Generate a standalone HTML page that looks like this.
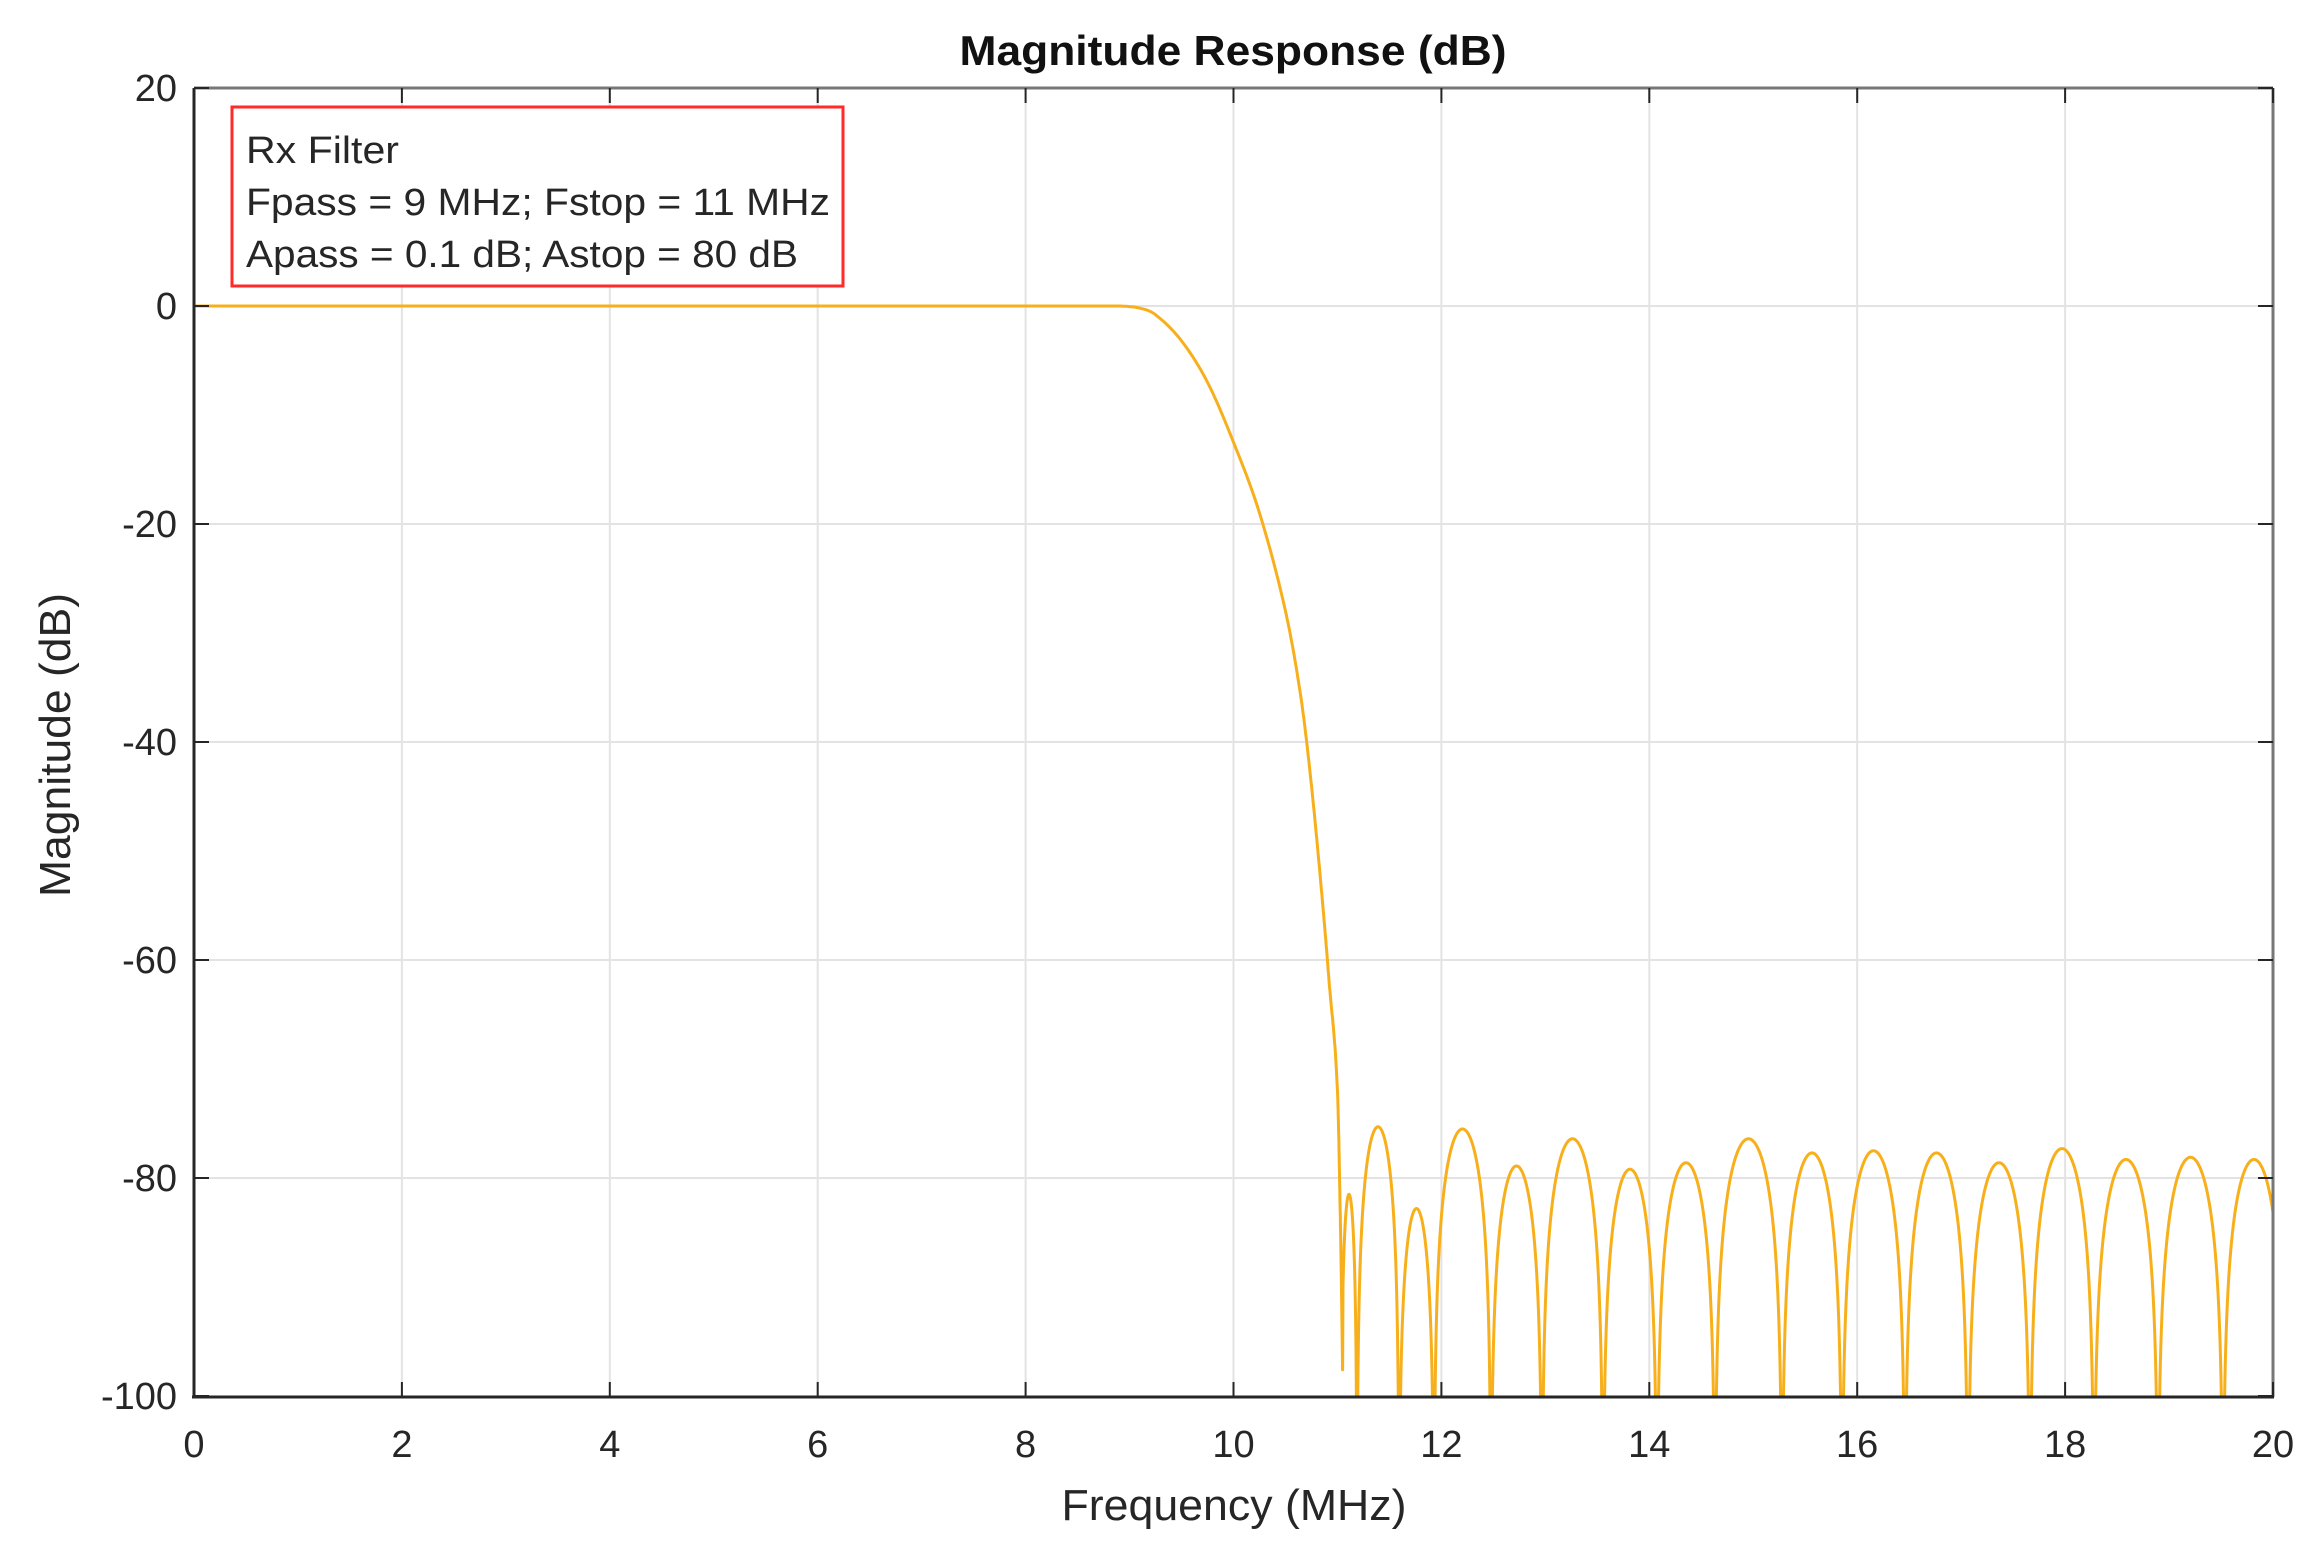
<!DOCTYPE html>
<html><head><meta charset="utf-8"><style>
html,body{margin:0;padding:0;background:#fff;}
svg{display:block;}
text{font-family:"Liberation Sans",Arial,sans-serif;fill:#262626;}
</style></head><body>
<svg id="s" width="2324" height="1546" viewBox="0 0 2324 1546" xmlns="http://www.w3.org/2000/svg">
<defs><clipPath id="c"><rect x="194" y="88" width="2079" height="1309"/></clipPath></defs>
<rect width="2324" height="1546" fill="#fff"/>
<g id="grid" stroke="#e3e3e3" stroke-width="2"></g>
<path id="curve" clip-path="url(#c)" fill="none" stroke="#f7b01c" stroke-width="3" stroke-linejoin="round"/>
<g id="axes" stroke="#262626" stroke-width="3" fill="none">
<line x1="194" y1="88" x2="194" y2="1397"/>
<line x1="192" y1="1397" x2="2274" y2="1397"/>
<line x1="194" y1="88" x2="2273" y2="88" stroke="#777"/>
<line x1="2273" y1="88" x2="2273" y2="1397" stroke="#777"/>
</g>
<g id="ticks" stroke="#262626" stroke-width="2"></g>
<g id="labels" font-size="38"></g>
<text x="1233" y="65" font-size="42" font-weight="bold" text-anchor="middle" textLength="547" lengthAdjust="spacingAndGlyphs" style="fill:#111">Magnitude Response (dB)</text>
<text x="1234" y="1520" font-size="44" text-anchor="middle" textLength="345" lengthAdjust="spacingAndGlyphs">Frequency (MHz)</text>
<text transform="translate(70,745) rotate(-90)" font-size="44" text-anchor="middle" textLength="304" lengthAdjust="spacingAndGlyphs">Magnitude (dB)</text>
<rect x="232" y="107" width="611" height="179" fill="#fff" stroke="#ff2a2a" stroke-width="3"/>
<text x="246" y="163" font-size="38" textLength="153" lengthAdjust="spacingAndGlyphs">Rx Filter</text>
<text x="246" y="215" font-size="38" textLength="584" lengthAdjust="spacingAndGlyphs">Fpass = 9 MHz; Fstop = 11 MHz</text>
<text x="246" y="267" font-size="38" textLength="552" lengthAdjust="spacingAndGlyphs">Apass = 0.1 dB; Astop = 80 dB</text>
</svg>
<script>
var NS="http://www.w3.org/2000/svg";
function X(f){return 194+f*103.95;}
function Y(d){return 306-d*10.9;}
function el(p,t,a,txt){var e=document.createElementNS(NS,t);for(var k in a)e.setAttribute(k,a[k]);if(txt!=null)e.textContent=txt;document.getElementById(p).appendChild(e);return e;}
for(var f=2;f<20;f+=2){el("grid","line",{x1:X(f),y1:88,x2:X(f),y2:1397});}
for(var d=0;d>-100;d-=20){el("grid","line",{x1:194,y1:Y(d),x2:2273,y2:Y(d)});}
for(var f=0;f<=20;f+=2){var x=X(f);
 el("ticks","line",{x1:x,y1:1397,x2:x,y2:1382});el("ticks","line",{x1:x,y1:88,x2:x,y2:103});
 el("labels","text",{x:x,y:1457,"text-anchor":"middle"},String(f));}
for(var d=20;d>=-100;d-=20){var y=Y(d);
 el("ticks","line",{x1:194,y1:y,x2:209,y2:y});el("ticks","line",{x1:2273,y1:y,x2:2258,y2:y});
 el("labels","text",{x:177,y:y+13,"text-anchor":"end"},String(d));}
var tr=[[0,0],[8.5,0],[8.9,0],[9.1,-0.2],[9.25,-0.8],[9.5,-3.2],[9.75,-7],[10,-12.5],[10.25,-19],[10.5,-28],[10.65,-36],[10.75,-44],[10.85,-54],[10.92,-62],[11.0,-72],[11.03,-85],[11.05,-97.6]];
var pts=[[X(0),Y(0)],[X(8.5),Y(0)]];
for(var i=1;i<tr.length-1;i++){
 var p0=tr[Math.max(i-1,0)],p1=tr[i],p2=tr[i+1],p3=tr[Math.min(i+2,tr.length-1)];
 for(var t=0;t<1;t+=0.05){
  var t2=t*t,t3=t2*t;
  var h00=2*t3-3*t2+1,h10=t3-2*t2+t,h01=-2*t3+3*t2,h11=t3-t2;
  var dx=p2[0]-p1[0];
  var m1=(p2[1]-p0[1])/(p2[0]-p0[0])*dx, m2=(p3[1]-p1[1])/(p3[0]-p1[0]||1)*dx;
  if(i==1)m1=0;
  var f=p1[0]+t*dx, v=h00*p1[1]+h10*m1+h01*p2[1]+h11*m2;
  if(v>0)v=0;
  pts.push([X(f),Y(v)]);
 }
}
pts.push([X(11.05),Y(-97.6)]);
var lobes=[[1341,1357,-81.5,1343],[1357,1399,-75.3],[1399,1434,-82.8],[1434,1491,-75.5],[1491,1542,-78.9],[1542,1603,-76.4],[1603,1657,-79.2],[1657,1715,-78.6],[1715,1782,-76.4],[1782,1842,-77.7],[1842,1905,-77.5],[1905,1968,-77.7],[1968,2030,-78.6],[2030,2094,-77.3],[2094,2158,-78.3],[2158,2223,-78.1],[2223,2285,-78.3]];
for(var j=0;j<lobes.length;j++){var L=lobes[j],a=L[0],b=L[1],P=L[2],s=L[3]||a;
 for(var x=s;x<=Math.min(b,2274);x+=0.5){var v=Math.sin(Math.PI*(x-a)/(b-a));var dB=v<=1e-4?-140:P+20*Math.log10(v);pts.push([x,Math.min(Y(dB),1420)]);}}
var dstr="M"+pts.map(function(p){return p[0].toFixed(1)+","+p[1].toFixed(1);}).join("L");
document.getElementById("curve").setAttribute("d",dstr);
</script>
</body></html>
